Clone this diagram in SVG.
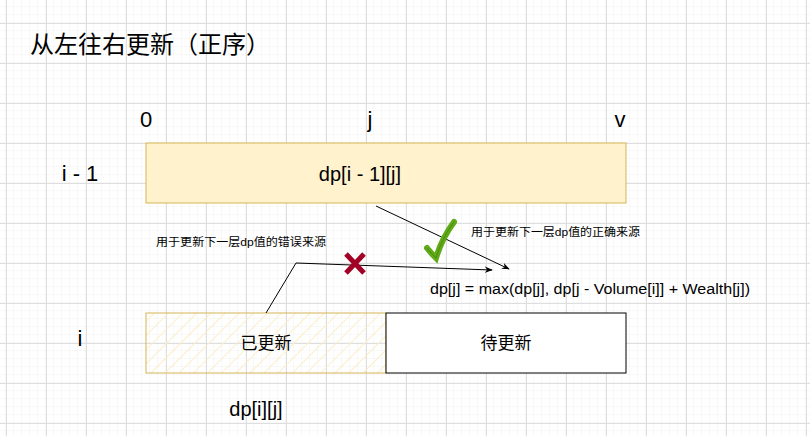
<svg xmlns="http://www.w3.org/2000/svg" width="810" height="436" viewBox="0 0 810 436">
<defs>
<pattern id="minor" x="6" y="23" width="8" height="8" patternUnits="userSpaceOnUse"><path d="M8 0V8M0 8H8" fill="none" stroke="#f1f1f1" stroke-width="1"/></pattern>
<pattern id="major" x="6" y="23" width="40" height="40" patternUnits="userSpaceOnUse"><path d="M0.5 0V40M0 0.5H40" fill="none" stroke="#dedede" stroke-width="1"/></pattern>
<pattern id="hatch" width="10" height="10" patternUnits="userSpaceOnUse" patternTransform="rotate(45)"><line x1="0" y1="0" x2="0" y2="10" stroke="#fbeec8" stroke-width="2"/></pattern>
<marker id="arr" viewBox="0 0 10 10" refX="9" refY="5" markerWidth="8" markerHeight="8" orient="auto"><path d="M0 1L10 5L0 9L3 5Z" fill="#000"/></marker>
<style>text{font-family:"Liberation Sans","Noto Sans CJK SC",sans-serif;fill:#000}</style>
</defs>
<rect width="810" height="436" fill="#fff"/>
<rect width="810" height="436" fill="url(#minor)"/>
<rect width="810" height="436" fill="url(#major)"/>
<text x="30" y="53" font-size="24">从左往右更新（正序）</text>
<text x="146" y="127" font-size="22" text-anchor="middle">0</text>
<text x="370" y="127" font-size="22" text-anchor="middle">j</text>
<text x="620" y="127" font-size="22" text-anchor="middle">v</text>
<text x="80" y="181" font-size="22" text-anchor="middle">i - 1</text>
<text x="80" y="346" font-size="22" text-anchor="middle">i</text>
<g id="top"><rect x="146" y="143" width="480" height="60" fill="#fff2cc" stroke="#d6b656"/><text x="360" y="181" font-size="20" text-anchor="middle">dp[i - 1][j]</text></g>
<g id="done"><rect x="146" y="313" width="240" height="60" fill="url(#hatch)" stroke="#d6b656"/><text x="266" y="349" font-size="17" text-anchor="middle">已更新</text></g>
<g id="todo"><rect x="386" y="313" width="240" height="60" fill="#fff" stroke="#000"/><text x="506" y="349" font-size="17" text-anchor="middle">待更新</text></g>
<text x="256" y="416" font-size="20" text-anchor="middle">dp[i][j]</text>
<text x="430" y="294" font-size="15.4" textLength="320" lengthAdjust="spacingAndGlyphs">dp[j] = max(dp[j], dp[j - Volume[i]] + Wealth[j])</text>
<text x="156" y="246" font-size="11" textLength="170" lengthAdjust="spacingAndGlyphs">用于更新下一层dp值的错误来源</text>
<text x="471" y="236" font-size="11" textLength="169" lengthAdjust="spacingAndGlyphs">用于更新下一层dp值的正确来源</text>
<g id="connectors" fill="none" stroke="#000" stroke-width="1">
<path d="M376 206L509 269" marker-end="url(#arr)"/>
<path d="M266 313L296 263L492 270" marker-end="url(#arr)"/>
</g>
<path d="M346 254L364 273M364 254L346 273" stroke="#a20025" stroke-width="5"/>
<path d="M427 248Q431 253 436 258Q442 238 454 222" fill="none" stroke="#60a917" stroke-width="6" stroke-linecap="round"/>
<path d="M427 248Q431 253 436 258Q442 238 454 222" fill="none" stroke="#4d8a12" stroke-width="1"/>
</svg>
